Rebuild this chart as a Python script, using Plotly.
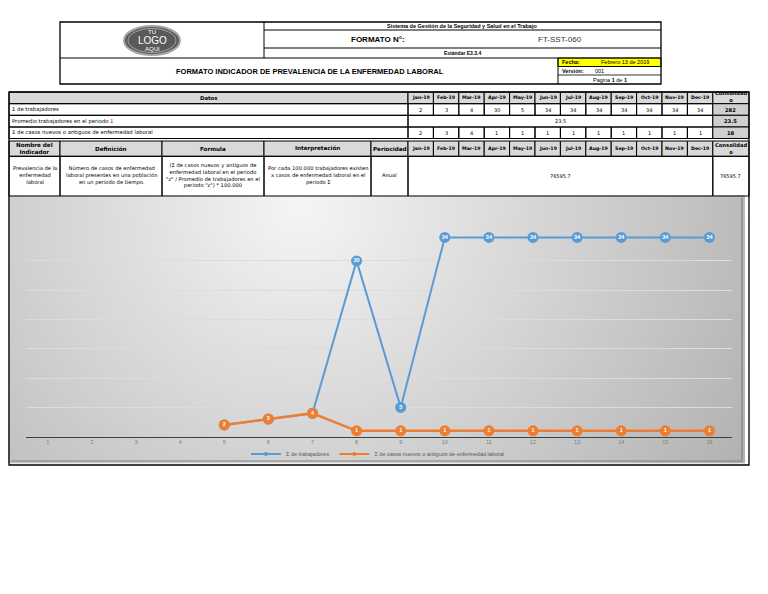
import numpy as np
import plotly.graph_objects as go

# ---- data ----
meses = ['Jan-19', 'Feb-19', 'Mar-19', 'Apr-19', 'May-19', 'Jun-19',
         'Jul-19', 'Aug-19', 'Sep-19', 'Oct-19', 'Nov-19', 'Dec-19']
trabajadores = [2, 3, 4, 30, 5, 34, 34, 34, 34, 34, 34, 34]
casos = [2, 3, 4, 1, 1, 1, 1, 1, 1, 1, 1, 1]

# chart series (the chart range starts four columns before the data)
categorias = [1, 2, 3, 4, 5, 6, 7, 8, 9, 10, 11, 12, 13, 14, 15, 16]
serie_trab = [None, None, None, None, 2, 3, 4, 30, 5, 34, 34, 34, 34, 34, 34, 34]
serie_casos = [None, None, None, None, 2, 3, 4, 1, 1, 1, 1, 1, 1, 1, 1, 1]

nombre_trab = 'Σ de trabajadores'
nombre_casos = 'Σ de casos nuevos o antiguos de enfermedad laboral'

total_trab = sum(trabajadores)
promedio = total_trab / len(trabajadores)
total_casos = sum(casos)
prevalencia = total_casos / promedio * 100000

# page has an 8px body margin, so the figure is a bit smaller and offset
OFF = 8
W, H = 768 - OFF, 594 - OFF
BLUE = '#5b9bd5'
ORANGE = '#ed7d31'
HDR = '#d9d9d9'
CONS = '#cfcfcf'
ARIAL = 'Liberation Sans'

shapes = []
annotations = []


def px(x):
    return (x - OFF) / W


def py(y):
    return 1 - (y - OFF) / H


def box(x0, y0, x1, y1, fill=None, lw=1, color='black'):
    shapes.append(dict(type='rect', xref='x', yref='y', x0=x0, y0=y0, x1=x1, y1=y1,
                       line=dict(color=color, width=lw),
                       fillcolor=fill if fill else 'rgba(0,0,0,0)', layer='above'))


def line(x0, y0, x1, y1, lw=1, color='black'):
    shapes.append(dict(type='line', xref='x', yref='y', x0=x0, y0=y0, x1=x1, y1=y1,
                       line=dict(color=color, width=lw), layer='above'))


def txt(x, y, s, size=5, bold=False, anchor='center', color='black', font='DejaVu Sans'):
    if bold:
        s = '<b>' + s + '</b>'
    annotations.append(dict(x=x, y=y, xref='x', yref='y', text=s, showarrow=False,
                            xanchor=anchor, yanchor='middle', align='center',
                            font=dict(family=font, size=size, color=color)))


# ---- encabezado ----
box(558, 58, 661, 66.5, fill='#ffff00', lw=0.8)
box(60, 22, 661, 84, lw=1.3)
line(264, 22, 264, 58)
line(60, 58, 661, 58)
line(264, 30, 661, 30)
line(264, 48, 661, 48)
line(558, 58, 558, 84)
line(558, 66.5, 661, 66.5, lw=0.8)
line(558, 75, 661, 75, lw=0.8)

# logo
shapes.append(dict(type='circle', xref='x', yref='y', x0=124, y0=26, x1=180, y1=55,
                   fillcolor='#595959', line=dict(color='#a6a6a6', width=2), layer='above'))
shapes.append(dict(type='circle', xref='x', yref='y', x0=128, y0=28.5, x1=176, y1=52.5,
                   fillcolor='rgba(0,0,0,0)', line=dict(color='#d9d9d9', width=0.6), layer='above'))
txt(152, 31.5, 'TU', size=6, color='white', font=ARIAL)
txt(152, 40.5, 'LOGO', size=10, color='white', font=ARIAL)
txt(152, 49, 'AQUI', size=6, color='white', font=ARIAL)

txt(462, 26, 'Sistema de Gestión de la Seguridad y Salud en el Trabajo', size=5.5, bold=True, font=ARIAL)
txt(378, 39, 'FORMATO N°:', size=8, bold=True, font=ARIAL)
txt(560, 39, 'FT-SST-060', size=8, font=ARIAL, color='#333333')
txt(462, 53, 'Estándar E3.3.4', size=5, bold=True, font=ARIAL)
txt(310, 71, 'FORMATO INDICADOR DE PREVALENCIA DE LA ENFERMEDAD LABORAL', size=7.5, bold=True, font=ARIAL)
txt(560, 62.3, 'Fecha:', size=5.5, bold=True, anchor='left', font=ARIAL)
txt(625, 62.3, 'Febrero 13 de 2019', size=5.5, font=ARIAL)
txt(560, 71, 'Versión:', size=5.5, bold=True, anchor='left', font=ARIAL)
txt(593, 71, '001', size=5.5, anchor='left', font=ARIAL)
txt(610, 79.5, 'Pagina <b>1</b> de <b>1</b>', size=5.5, font=ARIAL)

# ---- tabla de datos ----
mx = [408 + i * 25.4 for i in range(13)]
xr = 749
ry = [92, 103.7, 115.3, 127, 138.5]

box(9, ry[0], mx[0], ry[1], fill=HDR)
txt((9 + mx[0]) / 2, (ry[0] + ry[1]) / 2, 'Datos', size=5.3, bold=True)
for i, m in enumerate(meses):
    box(mx[i], ry[0], mx[i + 1], ry[1], fill=HDR)
    txt((mx[i] + mx[i + 1]) / 2, (ry[0] + ry[1]) / 2, m, size=4.7, bold=True)
box(mx[12], ry[0], xr, ry[1], fill=HDR)
txt((mx[12] + xr) / 2, 96.5, 'Consolidad<br>o', size=5.2, bold=True)

etiquetas = [nombre_trab,
             'Promedio trabajadores en el periodo <span style="color:red">Σ</span>',
             'Σ de casos nuevos o antiguos de enfermedad laboral']
consolidados = [f'{total_trab}', f'{promedio:.1f}', f'{total_casos}']
filas = [trabajadores, None, casos]
for r in range(3):
    y0, y1 = ry[r + 1], ry[r + 2]
    yc = (y0 + y1) / 2
    box(9, y0, mx[0], y1)
    txt(9.5, yc, etiquetas[r], size=5.3, anchor='left')
    if filas[r] is None:
        box(mx[0], y0, mx[12], y1)
        txt((mx[0] + mx[12]) / 2, yc, f'{promedio:.1f}', size=5)
    else:
        for i, v in enumerate(filas[r]):
            box(mx[i], y0, mx[i + 1], y1)
            txt((mx[i] + mx[i + 1]) / 2, yc, str(v), size=5)
    box(mx[12], y0, xr, y1, fill=CONS)
    txt((mx[12] + xr) / 2, yc, consolidados[r], size=5.2, bold=True)

# ---- tabla del indicador ----
ty = [141, 156.3, 196]
cx = [9, 60, 162, 264, 371, mx[0]]
titulos = ['Nombre del<br>Indicador', 'Definición', 'Formula', 'Interpretación', 'Periocidad']
cuerpo = ['Prevalencia de la<br>enfermedad<br>laboral',
          'Número de casos de enfermedad<br>laboral presentes en una población<br>en un periodo de tiempo.',
          '(Σ de casos nuevos y antiguos de<br>enfermedad laboral en el periodo<br>"z" / Promedio de trabajadores en el<br>periodo "z") * 100.000',
          'Por cada 100.000 trabajadores existen<br>x casos de enfermedad laboral en el<br>periodo Σ',
          'Anual']
for i in range(5):
    box(cx[i], ty[0], cx[i + 1], ty[1], fill=HDR)
    txt((cx[i] + cx[i + 1]) / 2, (ty[0] + ty[1]) / 2, titulos[i], size=5.6, bold=True)
    box(cx[i], ty[1], cx[i + 1], ty[2])
    txt((cx[i] + cx[i + 1]) / 2, (ty[1] + ty[2]) / 2 - 1, cuerpo[i], size=5.2)
for i, m in enumerate(meses):
    box(mx[i], ty[0], mx[i + 1], ty[1], fill=HDR)
    txt((mx[i] + mx[i + 1]) / 2, (ty[0] + ty[1]) / 2, m, size=4.7, bold=True)
box(mx[12], ty[0], xr, ty[1], fill=HDR)
txt((mx[12] + xr) / 2, (ty[0] + ty[1]) / 2, 'Consolidad<br>o', size=5.2, bold=True)
box(mx[0], ty[1], mx[12], ty[2])
txt((mx[0] + mx[12]) / 2, (ty[1] + ty[2]) / 2, f'{prevalencia:.1f}', size=5)
box(mx[12], ty[1], xr, ty[2])
txt((mx[12] + xr) / 2, (ty[1] + ty[2]) / 2, f'{prevalencia:.1f}', size=5)

# marco exterior de la tabla y del grafico
box(9, 92, xr, 465, lw=1.3)
line(11, 461, 742, 461, lw=1.2, color='#7f7f7f')
line(742, 198, 742, 461, lw=1.2, color='#7f7f7f')

# ---- fondo degradado del grafico ----
gx = np.linspace(11, 742, 120)
gy = np.linspace(198, 461, 50)
GX, GY = np.meshgrid(gx, gy)
dist = np.sqrt((GX - 300) ** 2 + ((GY - 205) * 1.05) ** 2)
gris = np.clip(245 - 0.13 * dist, 170, 246)

fig = go.Figure()
fig.add_trace(go.Heatmap(x=gx, y=gy, z=gris, zmin=0, zmax=255, zsmooth='best',
                         colorscale=[[0, 'rgb(0,0,0)'], [1, 'rgb(255,255,255)']],
                         showscale=False, hoverinfo='skip', xaxis='x', yaxis='y'))

fig.add_trace(go.Scatter(
    x=categorias, y=serie_trab, mode='lines+markers+text', name=nombre_trab,
    text=['' if v is None else str(v) for v in serie_trab],
    textposition='middle center',
    textfont=dict(family=ARIAL, size=5.5, color='white', weight='bold'),
    line=dict(color=BLUE, width=2),
    marker=dict(color=BLUE, size=11),
    showlegend=False, xaxis='x2', yaxis='y2', cliponaxis=False
))
fig.add_trace(go.Scatter(
    x=categorias, y=serie_casos, mode='lines+markers+text', name=nombre_casos,
    text=['' if v is None else str(v) for v in serie_casos],
    textposition='middle center',
    textfont=dict(family=ARIAL, size=5.5, color='white', weight='bold'),
    line=dict(color=ORANGE, width=2.5),
    marker=dict(color=ORANGE, size=11),
    showlegend=False, xaxis='x2', yaxis='y2', cliponaxis=False
))
# legend entries
for nombre, color in [(nombre_trab, BLUE), (nombre_casos, ORANGE)]:
    fig.add_trace(go.Scatter(x=[None], y=[None], mode='lines+markers', name=nombre,
                             line=dict(color=color, width=2), marker=dict(color=color, size=4),
                             xaxis='x2', yaxis='y2'))

fig.update_layout(
    width=W, height=H,
    margin=dict(l=0, r=0, t=0, b=0),
    paper_bgcolor='white',
    plot_bgcolor='rgba(0,0,0,0)',
    xaxis=dict(domain=[0, 1], range=[OFF, OFF + W], visible=False, fixedrange=True),
    yaxis=dict(domain=[0, 1], range=[OFF + H, OFF], visible=False, fixedrange=True),
    xaxis2=dict(domain=[px(25.8), px(731.5)], range=[0.5, 16.5], anchor='y2',
                showgrid=False, zeroline=False, showline=True, linecolor='#404040', linewidth=1.3,
                tickmode='array', tickvals=categorias, ticks='',
                tickfont=dict(family=ARIAL, size=5.5, color='#7f7f7f'), fixedrange=True),
    yaxis2=dict(domain=[py(436.7), py(231.6)], range=[0, 35], anchor='x2',
                dtick=5, showgrid=True, gridcolor='#dcdcdc', gridwidth=1,
                showticklabels=False, zeroline=False, showline=False, fixedrange=True),
    showlegend=True,
    legend=dict(orientation='h', x=px(378), xanchor='center', y=py(454), yanchor='middle',
                font=dict(family=ARIAL, size=5.5, color='#595959'),
                bgcolor='rgba(0,0,0,0)', itemsizing='trace', itemwidth=30),
    shapes=shapes,
    annotations=annotations,
)

fig.write_html("out.html")
